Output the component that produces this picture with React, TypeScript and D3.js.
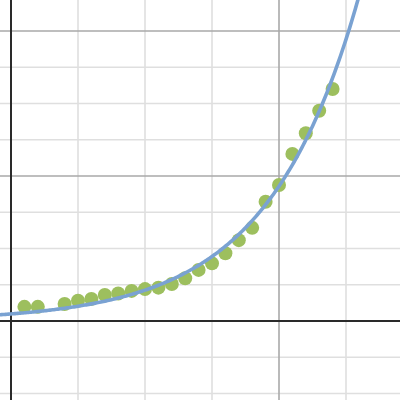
import React from "react";
import * as d3 from "d3";

const xValues = [0.2, 0.4, 0.8, 1.0, 1.2, 1.4, 1.6, 1.8, 2.0, 2.2, 2.4, 2.6, 2.8, 3.0, 3.2, 3.4, 3.6, 3.8, 4.0, 4.2, 4.4, 4.6, 4.8];
const yValues = [0.39, 0.39, 0.47, 0.56, 0.61, 0.72, 0.76, 0.83, 0.88, 0.92, 1.02, 1.18, 1.41, 1.59, 1.87, 2.23, 2.57, 3.29, 3.75, 4.61, 5.18, 5.8, 6.4];

// fitted exponential model y = a * e^(b x)
const fitA = 0.195;
const fitB = 0.737;

const minorX = [1, 2, 3, 5];
const majorX = [4];
const minorY = [-2, -1, 1, 2, 3, 5, 6, 7];
const majorY = [4, 8];

const W = 400;
const H = 400;

export default function App() {
  const x = d3.scaleLinear().domain([0, 4]).range([11, 279]);
  const y = d3.scaleLinear().domain([0, 8]).range([321, 31]);

  const curveXs = d3.range(-0.4, 5.5, 0.02);
  const line = d3
    .line<number>()
    .x((d) => x(d))
    .y((d) => y(fitA * Math.exp(fitB * d)))
    .curve(d3.curveLinear);

  return (
    <svg
      width={W}
      height={H}
      style={{ position: "fixed", left: 0, top: 0, background: "#fff" }}
    >
      <rect width={W} height={H} fill="#ffffff" />
      {minorX.map((v) => (
        <line key={"mx" + v} x1={x(v)} x2={x(v)} y1={0} y2={H} stroke="#dfdfdf" strokeWidth={1.6} />
      ))}
      {minorY.map((v) => (
        <line key={"my" + v} x1={0} x2={W} y1={y(v)} y2={y(v)} stroke="#dfdfdf" strokeWidth={1.6} />
      ))}
      {majorX.map((v) => (
        <line key={"Mx" + v} x1={x(v)} x2={x(v)} y1={0} y2={H} stroke="#a9a9a9" strokeWidth={1.6} />
      ))}
      {majorY.map((v) => (
        <line key={"My" + v} x1={0} x2={W} y1={y(v)} y2={y(v)} stroke="#a9a9a9" strokeWidth={1.6} />
      ))}
      <line x1={x(0)} x2={x(0)} y1={0} y2={H} stroke="#2a2a2a" strokeWidth={2} />
      <line x1={0} x2={W} y1={y(0)} y2={y(0)} stroke="#2a2a2a" strokeWidth={2} />
      {xValues.map((xv, i) => (
        <circle key={"p" + i} cx={x(xv)} cy={y(yValues[i])} r={7} fill="#9dbf5e" />
      ))}
      <path d={line(curveXs) || ""} fill="none" stroke="#7aa2d2" strokeWidth={3.6} strokeLinejoin="round" />
    </svg>
  );
}
